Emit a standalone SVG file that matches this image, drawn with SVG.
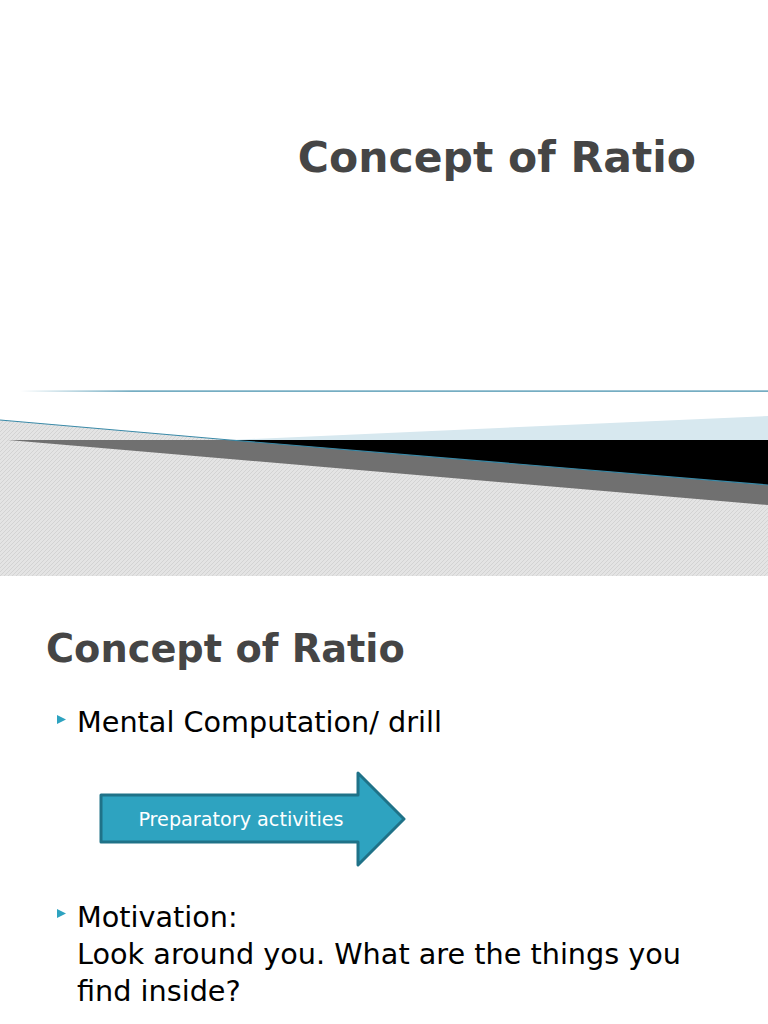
<svg xmlns="http://www.w3.org/2000/svg" width="768" height="1024" viewBox="0 0 768 1024">
<defs>
<style>
.t{font-family:"DejaVu Sans",sans-serif;}
.title{font-weight:bold;fill:#454545;}
.body{fill:#000;font-size:28.7px;}
</style>
<linearGradient id="lg" x1="0" x2="1"><stop offset="0" stop-color="#3a8aa8" stop-opacity="0"/><stop offset="0.15" stop-color="#3a8aa8"/><stop offset="1" stop-color="#3a8aa8"/></linearGradient>
<pattern id="tex" width="4" height="4" patternUnits="userSpaceOnUse"><rect width="4" height="4" fill="#e4e4e4"/><path d="M0,4 L4,0" stroke="#cfcfcf" stroke-width="0.8"/></pattern>
</defs>
<rect width="768" height="1024" fill="#fff"/>
<text class="t title" x="696" y="172" font-size="42.5" text-anchor="end">Concept of Ratio</text>
<rect x="20" y="390.5" width="748" height="1.2" fill="url(#lg)"/>
<polygon points="0,420 230,440 768,485 768,576 0,576" fill="url(#tex)"/>
<polygon points="230,440 768,416 768,440" fill="#d7e8ef"/>
<polygon points="8,440 768,440 768,505" fill="#707070"/>
<polygon points="230,440 768,440 768,485" fill="#000"/>
<polyline points="0,420 230,440 768,485" fill="none" stroke="#3a8aa8" stroke-width="1.2"/>
<rect x="0" y="576" width="768" height="448" fill="#fff"/>
<text class="t title" x="46" y="662" font-size="38.3">Concept of Ratio</text>
<g id="bullet1">
<polygon points="57,715 66,719.5 57,724" fill="#2ea3c0"/>
<text class="t body" x="77" y="732">Mental Computation/ drill</text>
</g>
<g id="arrow">
<polygon points="101,795 358,795 358,773 404,819 358,865 358,842 101,842" fill="#2ea3c0" stroke="#1f7288" stroke-width="3" stroke-linejoin="round"/>
<text class="t" x="241" y="826" font-size="19.2" fill="#fff" text-anchor="middle">Preparatory activities</text>
</g>
<g id="bullet2">
<polygon points="57,909 66,913.5 57,918" fill="#2ea3c0"/>
<text class="t body" x="77" y="927">Motivation:</text>
<text class="t body" x="77" y="964">Look around you. What are the things you</text>
<text class="t body" x="77" y="1001">find inside?</text>
</g>
</svg>
